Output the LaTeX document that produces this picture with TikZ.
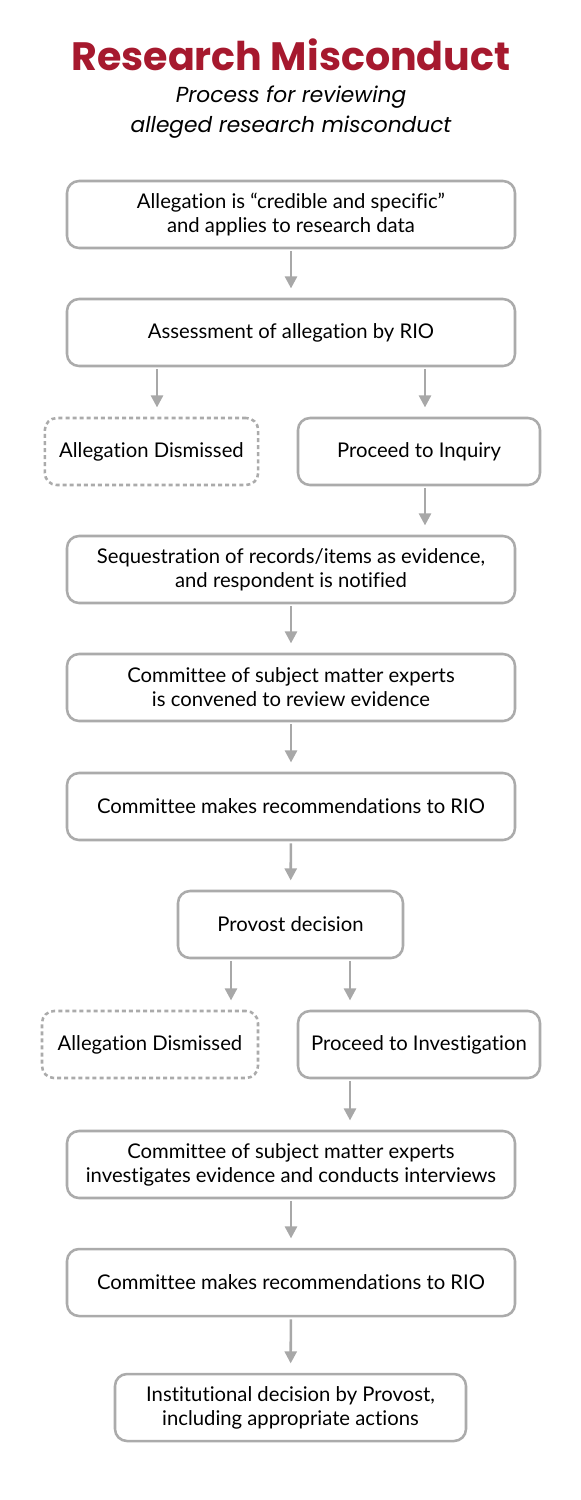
\documentclass[tikz,border=0pt]{standalone}
\usepackage{fontspec}
\setmainfont{Lato}[Ligatures=NoCommon]
\newfontfamily\headfont{Poppins}[Ligatures=NoCommon]
\usetikzlibrary{arrows.meta}
\definecolor{crim}{HTML}{A6192E}
\definecolor{bord}{HTML}{ABABAB}
\definecolor{arrc}{HTML}{A8A8A8}
\begin{document}
\begin{tikzpicture}[x=0.75pt,y=-0.75pt,
  box/.style={draw=bord, line width=1.9pt, rounded corners=9pt, fill=white,
    minimum height=50.25pt, inner sep=0pt, align=center,
    font=\fontsize{15.2}{18}\selectfont, text=black},
  wide/.style={box, minimum width=336pt},
  dbox/.style={box, dash pattern=on 3pt off 2.3pt},
  arr/.style={draw=arrc, line width=1.9pt, -{Triangle[width=9pt,length=9pt]},
    shorten <=1.5pt, shorten >=7pt}
]
\useasboundingbox (0,0) rectangle (581,1500);
\node[font=\headfont\fontsize{29.7}{36}\bfseries\selectfont, text=crim] (title) at (291,55) {Research Misconduct};
\node[font=\headfont\fontsize{16.3}{22.5}\itshape\selectfont, align=center] (sub) at (291,112) {Process for reviewing\\alleged research misconduct};

\node[wide] (a) at (291,214.5) {Allegation is “credible and specific”\\and applies to research data};
\node[wide] (b) at (291,332.5) {Assessment of allegation by RIO};
\node[dbox, minimum width=160pt] (d1) at (151.5,451.5) {Allegation Dismissed};
\node[box, minimum width=181.5pt] (inq) at (419,451.5) {Proceed to Inquiry};
\node[wide] (c) at (291,569.5) {Sequestration of records/items as evidence,\\and respondent is notified};
\node[wide] (d) at (291,687.5) {Committee of subject matter experts\\is convened to review evidence};
\node[wide] (e) at (291,806.5) {Committee makes recommendations to RIO};
\node[box, minimum width=168.75pt] (p) at (290.5,924.5) {Provost decision};
\node[dbox, minimum width=162pt] (d2) at (150,1044.5) {Allegation Dismissed};
\node[box, minimum width=181.5pt] (inv) at (419,1044.5) {Proceed to Investigation};
\node[wide] (f) at (291,1164.5) {Committee of subject matter experts\\investigates evidence and conducts interviews};
\node[wide] (g) at (291,1282.5) {Committee makes recommendations to RIO};
\node[box, minimum width=263.25pt] (h) at (290.5,1407.5) {Institutional decision by Provost,\\including appropriate actions};

\draw[arr] (a) -- (b);
\draw[arr] (b.south -| 157,0) -- (d1.north -| 157,0);
\draw[arr] (b.south -| 425,0) -- (inq.north -| 425,0);
\draw[arr] (inq.south -| 425,0) -- (c.north -| 425,0);
\draw[arr] (c) -- (d);
\draw[arr] (d) -- (e);
\draw[arr] (e) -- (p);
\draw[arr] (p.south -| 231,0) -- (d2.north -| 231,0);
\draw[arr] (p.south -| 350,0) -- (inv.north -| 350,0);
\draw[arr] (inv.south -| 350,0) -- (f.north -| 350,0);
\draw[arr] (f) -- (g);
\draw[arr] (g) -- (h);
\end{tikzpicture}
\end{document}
